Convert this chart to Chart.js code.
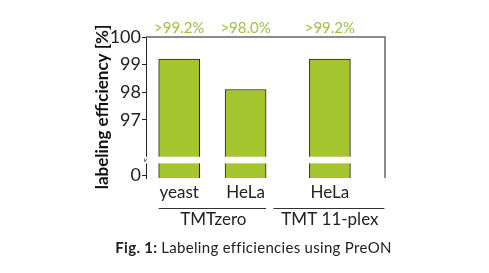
<!DOCTYPE html>
<html>
<head>
<meta charset="utf-8">
<script src="https://cdn.jsdelivr.net/npm/chart.js@4"></script>
<style>
  body { margin: 0; background: #fff; }
  #wrap { width: 489px; height: 273px; }
</style>
</head>
<body>
<div id="wrap"><canvas id="chart" width="489" height="273"></canvas></div>
<script>
const categories = ['yeast', 'HeLa', 'HeLa'];
const positions = [0.5, 1.5, 2.77];
const efficiency = [99.2, 98.1, 99.2];
const valueLabels = ['>99.2%', '>98.0%', '>99.2%'];
const groups = [
  { label: 'TMTzero', from: 0, to: 1 },
  { label: 'TMT 11-plex', from: 2, to: 2 }
];
const yTicks = [95, 97, 98, 99, 100];   // 95 stands in for the broken "0"
const breakBand = [95.43, 95.67];

const green = '#a5c52f';
const labelGreen = '#9cc33a';
const FONT = 'Lato, "Open Sans", sans-serif';

const decorations = {
  id: 'decorations',
  afterDraw(chart) {
    const ctx = chart.ctx;
    const area = chart.chartArea;
    const y = chart.scales.y;
    const meta = chart.getDatasetMeta(0);
    ctx.save();

    // break band
    const b1 = y.getPixelForValue(breakBand[1]);
    const b0 = y.getPixelForValue(breakBand[0]);
    ctx.fillStyle = '#fff';
    ctx.fillRect(area.left - 1, b1, area.right - area.left, b0 - b1);

    // top + right frame
    ctx.strokeStyle = '#666';
    ctx.lineWidth = 1.5;
    ctx.beginPath();
    ctx.moveTo(area.left, area.top);
    ctx.lineTo(area.right, area.top);
    ctx.lineTo(area.right, area.bottom);
    ctx.stroke();

    // break mark
    ctx.save();
    ctx.translate(area.left, (b0 + b1) / 2);
    ctx.rotate(-Math.PI / 2);
    ctx.fillStyle = '#444';
    ctx.font = '9px ' + FONT;
    ctx.textAlign = 'center';
    ctx.textBaseline = 'middle';
    ctx.fillText('\u2248', 0, 0);
    ctx.restore();

    // value labels
    ctx.fillStyle = labelGreen;
    ctx.font = '15px ' + FONT;
    ctx.textAlign = 'center';
    ctx.textBaseline = 'middle';
    meta.data.forEach((bar, i) => ctx.fillText(valueLabels[i], bar.x, 28));

    // category labels
    ctx.fillStyle = '#222';
    ctx.font = '17px ' + FONT;
    meta.data.forEach((bar, i) => ctx.fillText(categories[i], bar.x, 193));

    // group lines and labels
    groups.forEach(g => {
      const a = meta.data[g.from], z = meta.data[g.to];
      const x0 = a.x - a.width / 2 - (g.from === 2 ? 36 : 0);
      const x1 = z.x + z.width / 2 + (g.to === 2 ? 34 : 0);
      ctx.strokeStyle = '#333';
      ctx.lineWidth = 1;
      ctx.beginPath();
      ctx.moveTo(x0, 208.5);
      ctx.lineTo(x1, 208.5);
      ctx.stroke();
      ctx.fillText(g.label, (x0 + x1) / 2 + 1, 220);
    });

    // y title
    ctx.save();
    ctx.translate(103, 107);
    ctx.rotate(-Math.PI / 2);
    ctx.font = 'bold 17px ' + FONT;
    ctx.fillStyle = '#111';
    ctx.fillText('labeling efficiency [%]', 0, 0);
    ctx.restore();

    // caption
    const boldPart = 'Fig. 1: ';
    const rest = 'Labeling efficiencies using PreON';
    ctx.letterSpacing = '0.3px';
    ctx.font = 'bold 15px ' + FONT;
    const w1 = ctx.measureText(boldPart).width;
    ctx.font = '15px ' + FONT;
    const w2 = ctx.measureText(rest).width;
    let x = 253.5 - (w1 + w2) / 2;
    ctx.textAlign = 'left';
    ctx.textBaseline = 'alphabetic';
    ctx.font = 'bold 15px ' + FONT;
    ctx.fillText(boldPart, x, 252.5);
    ctx.font = '15px ' + FONT;
    ctx.fillText(rest, x + w1, 252.5);

    ctx.restore();
  }
};

new Chart(document.getElementById('chart'), {
  type: 'bar',
  data: {
    datasets: [{
      data: positions.map((p, i) => ({ x: p, y: efficiency[i] })),
      backgroundColor: green,
      borderColor: '#222',
      borderWidth: 1,
      barThickness: 41
    }]
  },
  options: {
    responsive: false,
    animation: false,
    layout: { padding: { left: 0, top: 37, right: 104, bottom: 95 } },
    plugins: { legend: { display: false }, tooltip: { enabled: false } },
    scales: {
      x: { type: 'linear', min: 0, max: 3.6, offset: false, display: false },
      y: {
        min: 94.9,
        max: 100,
        afterFit: s => { s.width = 146; },
        afterBuildTicks: s => { s.ticks = yTicks.map(v => ({ value: v })); },
        ticks: {
          padding: 1,
          color: '#222',
          font: { family: FONT, size: 18 },
          callback: v => v === 95 ? '0' : String(v)
        },
        grid: { drawOnChartArea: false, tickLength: 4, color: '#222' },
        border: { color: '#222', width: 1 }
      }
    }
  },
  plugins: [decorations]
});
</script>
</body>
</html>
